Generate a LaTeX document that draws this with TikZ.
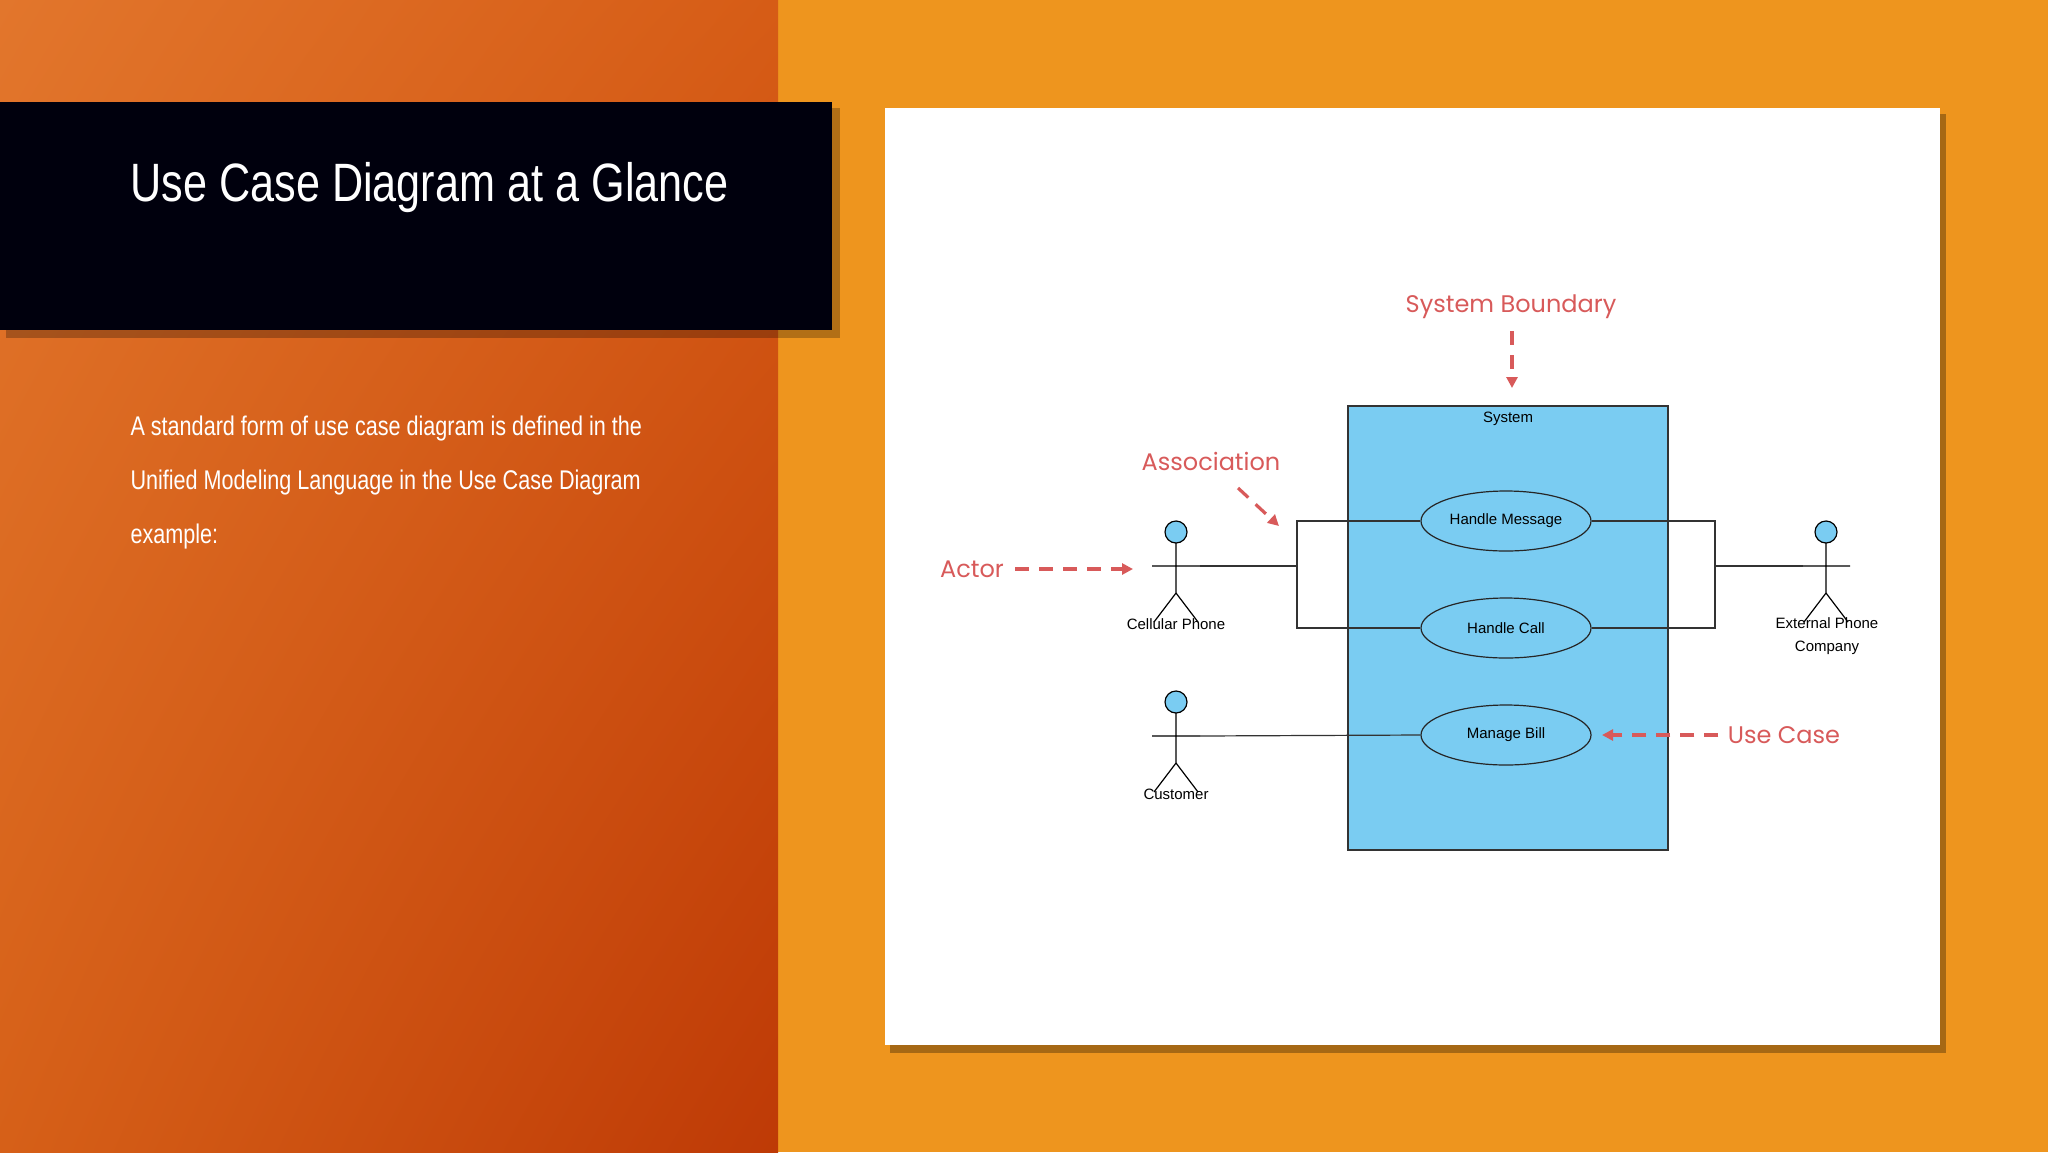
\documentclass[tikz,border=0pt]{standalone}
\usepackage{fontspec}
\setmainfont{Liberation Sans}
\newfontfamily\narrow[FakeStretch=0.8]{Liberation Sans}
\newfontfamily\geo{Poppins}
\usetikzlibrary{arrows.meta,calc,shadings,shapes.geometric}
\definecolor{bgor}{HTML}{EE951E}
\definecolor{redl}{HTML}{D85A5A}
\definecolor{sysblue}{HTML}{7ACCF2}
\definecolor{gul}{RGB}{226,118,44}
\definecolor{gur}{RGB}{214,92,22}
\definecolor{gll}{RGB}{214,96,24}
\definecolor{glr}{RGB}{190,58,6}
\tikzset{
  uc/.style={ellipse,draw=black!85,line width=1.2pt,fill=sysblue,minimum width=170pt,minimum height=60pt,font=\fontsize{15}{17}\selectfont},
  assoc/.style={draw=black!80,line width=1.2pt},
  redarrow/.style={draw=redl,line width=3.2pt,dash pattern=on 14pt off 10pt,-{Triangle[length=11pt,width=11pt]}},
  redlbl/.style={text=redl,font=\geo\fontsize{24}{26}\selectfont},
  actlbl/.style={font=\fontsize{15}{18}\selectfont,align=center},
}
\newcommand{\actorfig}[2]{%
  \draw[line width=1.2pt,fill=sysblue] (#1,#2-8) circle (11pt);
  \draw[line width=1.2pt] (#1,#2+3) -- (#1,#2+53) (#1-24,#2+26) -- (#1+24,#2+26)
     (#1-22,#2+82) -- (#1,#2+53) -- (#1+22,#2+82);}
\begin{document}
\begin{tikzpicture}[x=1pt,y=-1pt]
\useasboundingbox (0,0) rectangle (2048,1152);
\fill[bgor] (0,0) rectangle (2048,1152);
\shade[upper left=gul,upper right=gur,lower left=gll,lower right=glr] (0,0) rectangle (778,1152);
% banner
\fill[black,opacity=0.25] (6,108) rectangle (840,338);
\fill[black!95!blue] (0,102) rectangle (832,330);
\node[anchor=west,text=white,font=\narrow\fontsize{54}{60}\selectfont] (title) at (127,188) {Use Case Diagram at a Glance};
\node[anchor=north west,text=white,align=left,font=\narrow\fontsize{27}{54}\selectfont] (body) at (127,412)
  {A standard form of use case diagram is defined in the\\Unified Modeling Language in the Use Case Diagram\\example:};
% white panel
\fill[black,opacity=0.3] (890,114) rectangle (1946,1053);
\fill[white] (885,108) rectangle (1940,1045);
% system
\draw[line width=1.5pt,draw=black!80,fill=sysblue] (1348,406) rectangle (1668,850);
\node[font=\fontsize{15}{17}\selectfont] (sys) at (1508,419) {System};
\node[uc] (hm) at (1506,521) {Handle Message};
\node[uc] (hc) at (1506,628) {Handle Call};
\node[uc] (mb) at (1506,735) {Manage Bill};
% actors
\actorfig{1176}{540}
\actorfig{1176}{710}
\actorfig{1826}{540}
\coordinate (cp) at (1200,566);
\coordinate (cu) at (1200,736);
\coordinate (ep) at (1803,566);
\node[actlbl] (cpl) at (1176,624) {Cellular Phone};
\node[actlbl] (cul) at (1176,794) {Customer};
\node[actlbl,font=\fontsize{15}{23}\selectfont] (epl) at (1827,636) {External Phone\\Company};
\draw[assoc] (cp) -- (1297,566) |- (hm.west);
\draw[assoc] (1297,566) |- (hc.west);
\draw[assoc] (cu) -- (mb.west);
\draw[assoc] (ep) -- (1715,566) |- (hm.east);
\draw[assoc] (1715,566) |- (hc.east);
% red annotations
\node[redlbl] (sb) at (1511,307) {System Boundary};
\draw[redarrow] (1512,331) -- (1512,388);
\node[redlbl] (as) at (1211,461) {Association};
\draw[redarrow] (1238,488) -- (1279,526);
\node[redlbl] (ac) at (972,569) {Actor};
\draw[redarrow] (ac.east) ++(8,0) -- (1133,569);
\node[redlbl] (ucl) at (1784,735) {Use Case};
\draw[redarrow] (ucl.west) ++(-6,0) -- (1602,735);
\end{tikzpicture}
\end{document}
